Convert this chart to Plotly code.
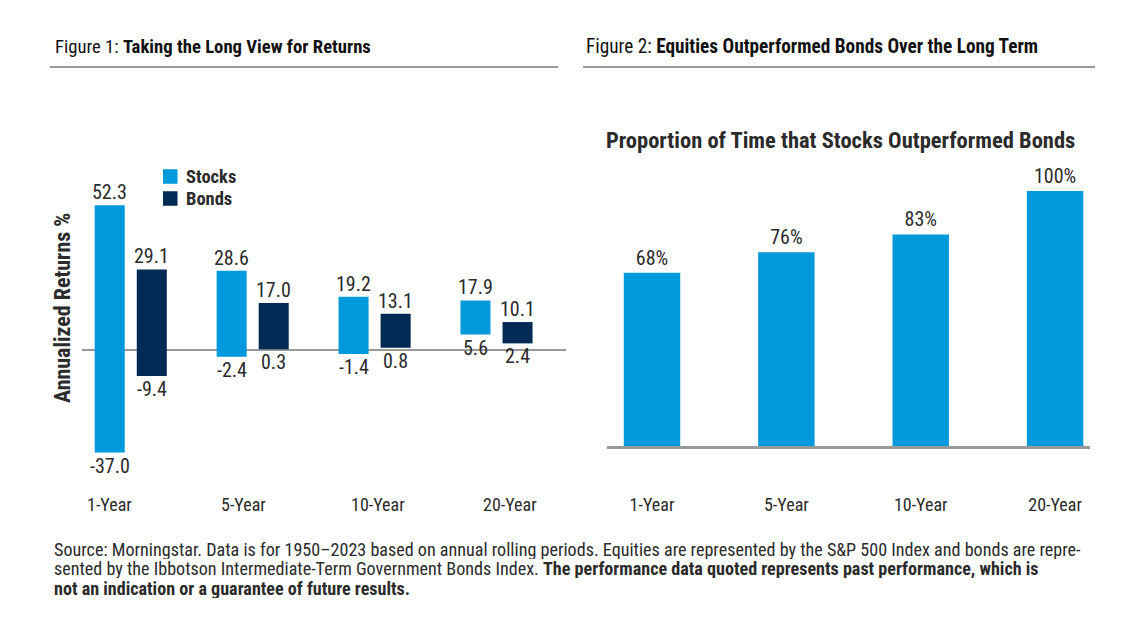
import plotly.graph_objects as go

# ---------------- data ----------------
periods = ["1-Year", "5-Year", "10-Year", "20-Year"]
stocks_high = [52.3, 28.6, 19.2, 17.9]
stocks_low = [-37.0, -2.4, -1.4, 5.6]
bonds_high = [29.1, 17.0, 13.1, 10.1]
bonds_low = [-9.4, 0.3, 0.8, 2.4]
outperform_pct = [68, 76, 83, 100]
series_names = ["Stocks", "Bonds"]

footnote_lines = [
    "Source: Morningstar. Data is for 1950\u20132023 based on annual rolling periods. "
    "Equities are represented by the S&P 500 Index and bonds are repre-",
    "sented by the Ibbotson Intermediate-Term Government Bonds Index. "
    "<b>The performance data quoted represents past performance, which is</b>",
    "<b>not an indication or a guarantee of future results.</b>",
]

# ---------------- style ----------------
W, H = 1147, 643
FONT = "Liberation Sans Narrow, Roboto Condensed, DejaVu Sans Condensed, Arial Narrow, sans-serif"
TXT = "#2b2b2b"
BLUE = "#0099DC"
NAVY = "#012A55"
GRAY = "#999999"
colors = [BLUE, NAVY]


def px(x):
    return x / W


def py(y):
    return 1 - y / H


fig = go.Figure()

fig.add_trace(go.Bar(
    x=periods, y=[h - l for h, l in zip(stocks_high, stocks_low)], base=stocks_low,
    name=series_names[0], marker=dict(color=BLUE, line=dict(width=0)),
    xaxis="x", yaxis="y", offsetgroup="s", hoverinfo="skip", showlegend=False))
fig.add_trace(go.Bar(
    x=periods, y=[h - l for h, l in zip(bonds_high, bonds_low)], base=bonds_low,
    name=series_names[1], marker=dict(color=NAVY, line=dict(width=0)),
    xaxis="x", yaxis="y", offsetgroup="b", hoverinfo="skip", showlegend=False))

fig.add_trace(go.Bar(
    x=periods, y=outperform_pct, showlegend=False,
    marker=dict(color=BLUE, line=dict(width=0)),
    text=[f"{v}%" for v in outperform_pct], textposition="outside",
    textfont=dict(family=FONT, size=20, color=TXT), cliponaxis=False,
    xaxis="x2", yaxis="y2", width=0.42, hoverinfo="skip"))

annotations = []
BAR_SHIFT = 21
VFONT = dict(family=FONT, size=20, color=TXT)
for i, p in enumerate(periods):
    for hi, lo, sh in ((stocks_high[i], stocks_low[i], -BAR_SHIFT),
                       (bonds_high[i], bonds_low[i], BAR_SHIFT)):
        annotations.append(dict(x=p, y=hi, xref="x", yref="y", text=f"{hi:.1f}",
                                showarrow=False, yanchor="bottom", xshift=sh, yshift=-1,
                                font=VFONT))
        annotations.append(dict(x=p, y=lo, xref="x", yref="y", text=f"{lo:.1f}",
                                showarrow=False, yanchor="top", xshift=sh, yshift=1,
                                font=VFONT))

# left category labels
label_shift = [-21, -9, 3, 13]
for p, s in zip(periods, label_shift):
    annotations.append(dict(x=p, y=py(504), xref="x", yref="paper", text=p, showarrow=False,
                            xshift=s, yanchor="middle",
                            font=dict(family=FONT, size=18, color=TXT)))

# manual legend
legend_y = [176.5, 198.5]
shapes = []
for name, c, ly in zip(series_names, colors, legend_y):
    shapes.append(dict(type="rect", xref="paper", yref="paper",
                       x0=px(163), x1=px(177.5), y0=py(ly - 7.25), y1=py(ly + 7.25),
                       fillcolor=c, line=dict(width=0)))
    annotations.append(dict(x=px(184), y=py(ly), xref="paper", yref="paper",
                            xanchor="left", yanchor="middle", text=f"<b>{name}</b>",
                            showarrow=False, font=dict(family=FONT, size=18.5, color=TXT)))

annotations += [
    dict(x=px(53), y=py(47), xref="paper", yref="paper", xanchor="left", yanchor="middle",
         text="Figure 1: <b>Taking the Long View for Returns</b>", showarrow=False,
         font=dict(family=FONT, size=18.7, color="#111111")),
    dict(x=px(584), y=py(47), xref="paper", yref="paper", xanchor="left", yanchor="middle",
         text="Figure 2: <b>Equities Outperformed Bonds Over the Long Term</b>", showarrow=False,
         font=dict(family=FONT, size=19.3, color="#111111")),
    dict(x=px(840), y=py(140), xref="paper", yref="paper", xanchor="center", yanchor="middle",
         text="<b>Proportion of Time that Stocks Outperformed Bonds</b>", showarrow=False,
         font=dict(family=FONT, size=22.5, color=TXT)),
    dict(x=px(62), y=py(308), xref="paper", yref="paper", xanchor="center", yanchor="middle",
         text="<b>Annualized Returns %</b>", textangle=-90, showarrow=False,
         font=dict(family=FONT, size=22, color=TXT)),
]

for line, ly in zip(footnote_lines, [549, 568.5, 588]):
    annotations.append(dict(x=px(53), y=py(ly), xref="paper", yref="paper",
                            xanchor="left", yanchor="middle", align="left", showarrow=False,
                            height=19, borderpad=0,
                            text=line, font=dict(family=FONT, size=18.1, color=TXT)))

shapes += [
    dict(type="line", xref="paper", yref="paper", x0=px(50), x1=px(558), y0=py(67), y1=py(67),
         line=dict(color=GRAY, width=2)),
    dict(type="line", xref="paper", yref="paper", x0=px(583), x1=px(1095), y0=py(67), y1=py(67),
         line=dict(color="#777777", width=1.5)),
]

fig.update_layout(
    width=W, height=H,
    margin=dict(l=0, r=0, t=0, b=0),
    paper_bgcolor="white", plot_bgcolor="white",
    barmode="group", bargap=0.31, bargroupgap=0.286,
    font=dict(family=FONT, color=TXT),
    showlegend=False,
    xaxis=dict(domain=[px(82), px(566)], range=[-0.40, 3.57], showticklabels=False,
               showgrid=False, zeroline=False, showline=False, ticks=""),
    yaxis=dict(domain=[py(470), py(150)], range=[-43.3, 72.2], showticklabels=False,
               showgrid=False, zeroline=True, zerolinecolor=GRAY, zerolinewidth=2,
               showline=False, ticks=""),
    xaxis2=dict(domain=[px(607), px(1090)], range=[-0.335, 3.26], showgrid=False,
                zeroline=False, showline=True, linecolor=GRAY, linewidth=2.5, ticks="",
                tickfont=dict(family=FONT, size=18, color=TXT), ticklabelstandoff=41,
                anchor="y2"),
    yaxis2=dict(domain=[py(446), py(150)], range=[0, 116.1], showticklabels=False,
                showgrid=False, zeroline=False, showline=False, ticks="", anchor="x2"),
    annotations=annotations,
    shapes=shapes,
)

fig.write_html("out.html")
